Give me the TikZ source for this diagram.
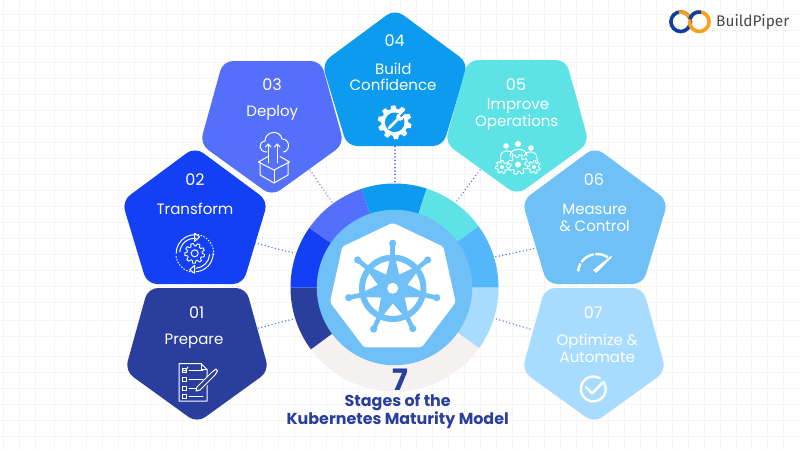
\documentclass[tikz,border=0pt]{standalone}
\usepackage{fontspec}
\usetikzlibrary{calc}
\setmainfont{Poppins}
\newfontfamily\logofont{Fira Sans}
\definecolor{cA}{HTML}{2A3F9D}
\definecolor{cB}{HTML}{1440F5}
\definecolor{cC}{HTML}{5470FA}
\definecolor{cD}{HTML}{0D9BEF}
\definecolor{cE}{HTML}{5DE2E6}
\definecolor{cF}{HTML}{6FC0F7}
\definecolor{cG}{HTML}{A8DCFF}
\definecolor{cF2}{HTML}{52B8FB}
\definecolor{ringbase}{HTML}{F6F1F1}
\definecolor{gridc}{HTML}{F6F5F4}
\definecolor{dotc}{HTML}{4A63F0}
\definecolor{logoblue}{HTML}{123E9C}
\definecolor{logoorange}{HTML}{F9A11B}
\definecolor{logotext}{HTML}{4A4A4A}
\tikzset{
  pent/.style={rounded corners=10pt,draw=none},
  seg/.style={draw=none},
  conn/.style={dotc,line width=1.4pt,line cap=round,dash pattern=on 0.1pt off 3.4pt},
  num/.style={text=white,font=\fontsize{16}{18}\selectfont,inner sep=0pt},
  lab/.style={text=white,font=\fontsize{15}{16}\selectfont,inner sep=0pt},
  ico/.style={white,line width=1pt,line cap=round,line join=round},
  title/.style={text=cA,font=\fontsize{15.9}{18}\bfseries\selectfont,inner sep=0pt},
}
% tip-up pentagon: centre x, top y, colour
\newcommand\pentup[3]{\fill[pent,#3] (#1,#2-3) -- (#1+73,#2+51) -- (#1+48,#2+134) -- (#1-48,#2+134) -- (#1-73,#2+51) -- cycle;}
% tip-down pentagon: centre x, top y, colour
\newcommand\pentdown[3]{\fill[pent,#3] (#1-49,#2) -- (#1+49,#2) -- (#1+72,#2+83) -- (#1,#2+135) -- (#1-72,#2+83) -- cycle;}
% ring segment: from angle, to angle, colour
\newcommand\ringseg[3]{\fill[seg,#3] (#1:104pt) arc[start angle=#1,end angle=#2,radius=104pt] -- (#2:70pt) arc[start angle=#2,end angle=#1,radius=70pt] -- cycle;}
% gear outline: options, x, y, R, r, teeth
\newcommand\mygear[6]{\path[#1,shift={(#2,#3)}] (0:#4pt) foreach \k in {1,...,#6}{ -- ({(\k-0.72)*360/#6}:#4pt) -- ({(\k-0.55)*360/#6}:#5pt) -- ({(\k-0.18)*360/#6}:#5pt) -- ({\k*360/#6}:#4pt)} -- cycle;}
\begin{document}
\begin{tikzpicture}[x=1pt,y=-1pt]
\useasboundingbox (0,0) rectangle (800,450);
\fill[white] (0,0) rectangle (800,450);
% background grid
\foreach \gx in {3.5,19.5,35.5,54.5,70.5,86.5,102.5,118.5,134.5,150.5,166.5,182.5,198.5,214.5,230.5,246.5,262.5,278.5,294.5,310.5,326.5,342.5,358.5,374.5,390.5,400.5,416.5,432.5,448.5,464.5,480.5,496.5,512.5,528.5,544.5,560.5,576.5,592.5,608.5,624.5,640.5,656.5,672.5,688.5,704.5,720.5,736.5,751.5,767.5,783.5}
  \draw[gridc,line width=1pt] (\gx,0) -- (\gx,450);
\foreach \gy in {14,30,46,62,78,94,110,126,142,158,174,190,206,222,238,254,270,286,302,320,336,356,372,388,404,420,436}
  \draw[gridc,line width=1pt] (0,\gy) -- (800,\gy);
% connector ends
\coordinate (a1) at (255,329); \coordinate (b1) at (293,319);
\coordinate (a2) at (255,243); \coordinate (b2) at (293,253);
\coordinate (a3) at (310,170); \coordinate (b3) at (332,202);
\coordinate (a4) at (395,143); \coordinate (b4) at (395,182);
\coordinate (a5) at (480,170); \coordinate (b5) at (456,202);
\coordinate (a6) at (537,248); \coordinate (b6) at (495,257);
\coordinate (a7) at (530,329); \coordinate (b7) at (493,318);
\foreach \i in {1,...,7} \draw[conn] (a\i) -- (b\i);
% pentagons
\pentup{195}{150}{cB}
\pentdown{197}{288}{cA}
\pentdown{272}{61}{cC}
\pentup{395}{12}{cD}
\pentdown{517}{60}{cE}
\pentup{595}{150}{cF}
\pentdown{594}{288}{cG}
% centre ring
\begin{scope}[shift={(394.5,287.5)}]
  \fill[ringbase] (0,0) circle[radius=104pt];
  \ringseg{180}{216.5}{cA}
  \ringseg{145}{180}{cB}
  \ringseg{108.4}{145}{cC}
  \ringseg{72}{108.4}{cD}
  \ringseg{36}{72}{cE}
  \ringseg{0}{36}{cF2}
  \ringseg{-35.5}{0}{cG}
  \fill[cF] (0,0) circle[radius=77.7pt];
\end{scope}
% heptagon
\fill[white,rounded corners=2pt] (392.7,222.7) -- (443.3,246.7) -- (455.7,302.3) -- (421.7,347.3) -- (364,347.3) -- (330,302.3) -- (342.3,246.7) -- cycle;
% helm
\begin{scope}[shift={(392.7,288.3)}]
  \draw[cF,line width=6pt] (0,0) circle[radius=30.7pt];
  \foreach \a in {90,39,-12,-63.5,-115,192,141}{
    \fill[cF] ($(\a-90:10pt)$) -- ($(\a:31pt)+(\a-90:2.2pt)$) -- ($(\a:31pt)+(\a+90:2.2pt)$) -- ($(\a+90:10pt)$) -- cycle;
    \draw[cF,line width=4.6pt,line cap=round] (\a:31pt) -- (\a:44pt);
    \fill[cF] (\a:45pt) circle[radius=3.6pt];
  }
  \fill[cF] (0,0) circle[radius=11pt];
  \fill[white] (0,0) circle[radius=5.5pt];
\end{scope}
% texts
\node[num] (n1) at (196.7,312.7) {01};
\node[lab] (t1) at (194,341.7) {Prepare};
\node[num] (n2) at (195,180) {02};
\node[lab] (t2) at (195,209) {Transform};
\node[num] (n3) at (272,85) {03};
\node[lab] (t3) at (272.3,113) {Deploy};
\node[num] (n4) at (394.7,41) {04};
\node[lab] (t4a) at (393.3,69) {Build};
\node[lab] (t4b) at (393,85) {Confidence};
\node[num] (n5) at (516,85) {05};
\node[lab] (t5a) at (518,106.7) {Improve};
\node[lab] (t5b) at (516.7,122.3) {Operations};
\node[num] (n6) at (594,180) {06};
\node[lab] (t6a) at (594.7,209) {Measure};
\node[lab] (t6b) at (594.7,225.7) {\& Control};
\node[num] (n7) at (593.3,312.3) {07};
\node[lab] (t7a) at (597.3,341.7) {Optimize \&};
\node[lab] (t7b) at (597.3,357.7) {Automate};
\node[title,font=\fontsize{29.5}{30}\bfseries\selectfont] (seven) at (400,380) {7};
\node[title] (s1) at (397.7,402) {Stages of the};
\node[title] (s2) at (397.7,420) {Kubernetes Maturity Model};
% icon 01 checklist
\begin{scope}[ico]
  \draw (179,363.5) -- (201,363.5) -- (207,369.5) -- (207,401) -- (179,401) -- cycle;
  \draw (201,363.5) -- (201,369.5) -- (207,369.5);
  \foreach \yy in {370,379,388,396}{
    \draw (182,\yy-2) rectangle (186,\yy+2);
    \draw (189,\yy) -- (203,\yy);
  }
  \draw (183,370) -- (185,371) -- (188,367);
  \fill[cA] (196,388) -- (213,372) -- (218,376) -- (200,391) -- cycle;
  \draw (197,387) -- (212,372) -- (216,369) -- (217.5,371) -- (215,375) -- (200,390) -- (196,391) -- cycle;
\end{scope}
% icon 02 cycle gear
\begin{scope}[ico,shift={(194.7,253.3)}]
  \mygear{draw=white,line width=0.9pt}{0}{0}{7.5}{10}{9}
  \draw (0,0) circle[radius=3.5pt];
  \draw (175:15pt) arc[start angle=175,end angle=85,radius=15pt];
  \draw (180:18.5pt) arc[start angle=180,end angle=85,radius=18.5pt];
  \draw (-5:15pt) arc[start angle=-5,end angle=-85,radius=15pt];
  \draw (0:18.5pt) arc[start angle=0,end angle=-85,radius=18.5pt];
  \draw[dotted] (80:19pt) arc[start angle=80,end angle=-5,radius=19pt];
  \draw[dotted] (-95:19pt) arc[start angle=-95,end angle=-175,radius=19pt];
  \draw (0,-20) -- (5,-16.5) -- (0,-12) -- cycle;
  \draw (0,20) -- (-5,16.5) -- (0,12) -- cycle;
\end{scope}
% icon 03 cloud and box
\begin{scope}[ico]
  \draw (267,152) .. controls (258,152) and (258,142) .. (265,141) .. controls (265,131) and (280,129) .. (282,139) .. controls (291,139) and (290,152) .. (283,152);
  \draw (268.3,163) -- (268.3,144); \draw (265.5,147) -- (268.3,144) -- (271,147);
  \draw (277.3,163) -- (277.3,144); \draw (274.5,147) -- (277.3,144) -- (280,147);
  \draw (260,163) -- (260,175) -- (274,183) -- (288,175) -- (288,163);
  \draw (274,170) -- (274,183);
  \draw (258.5,162) -- (274,170) -- (289.5,162) -- (280,156.5);
  \draw (258.5,162) -- (268,156.5);
\end{scope}
% icon 04 gear and wrench
\mygear{fill=white}{394.7}{122.3}{13.5}{17}{10}
\fill[cD] (394.7,122.3) circle[radius=9.8pt];
\draw[white,line width=2.6pt,line cap=round] (389,128) -- (398.5,118.5);
\fill[white] (400,117) circle[radius=3.8pt];
\draw[cD,line width=2pt] (400.5,116.5) -- (405,112);
% icon 05 team and gears
\begin{scope}[ico]
  \fill[white] (506,146) circle[radius=2.8pt];
  \fill[white] (518,144) circle[radius=3pt];
  \fill[white] (531,148) circle[radius=2.8pt];
  \draw (500.5,162) -- (500.5,157) .. controls (500.5,149) and (512,149) .. (513,155);
  \draw (510,156) .. controls (510,147) and (527,147) .. (527,156);
  \draw (524,156) .. controls (525,150) and (537,150) .. (537,158) -- (537,162);
  \mygear{draw=white,line width=0.9pt,fill=cE}{502}{167}{4.5}{6.5}{7}
  \mygear{draw=white,line width=0.9pt,fill=cE}{534}{167}{4.5}{6.5}{7}
  \mygear{draw=white,line width=0.9pt,fill=cE}{518}{164.5}{7}{10}{8}
  \fill[white] (502,167) circle[radius=2pt];
  \fill[white] (534,167) circle[radius=2pt];
  \fill[white] (518,164.5) circle[radius=3pt];
\end{scope}
% icon 06 gauge
\begin{scope}[shift={(597,273)}]
  \draw[white,line width=2.4pt] (175:19pt) arc[start angle=175,end angle=150,radius=19pt];
  \draw[white,line width=2.4pt] (145:19pt) arc[start angle=145,end angle=100,radius=19pt];
  \draw[white,line width=2.4pt] (95:19pt) arc[start angle=95,end angle=55,radius=19pt];
  \fill[white] (-4,-3) -- (14,-17) -- (15,-16) -- (-1,0) -- cycle;
\end{scope}
% icon 07 check
\draw[white,line width=2.4pt,line cap=round] (593.3,389) ++(35:12.5pt) arc[start angle=35,end angle=-300,radius=12.5pt];
\draw[white,line width=2.4pt,line cap=round,line join=round] (586,387.3) -- (592,393.3) -- (602.7,382.7);
% logo
\draw[logoblue,line width=3.6pt] (680.7,21.7) circle[radius=9.8pt];
\draw[logoorange,line width=3.6pt] (699.3,21.7) circle[radius=9.8pt];
\draw[logoorange,line width=3.6pt] (680.7,21.7) ++(100:9.8pt) arc[start angle=100,end angle=15,radius=9.8pt];
\draw[logoblue,line width=3.6pt] (699.3,21.7) ++(165:9.8pt) arc[start angle=165,end angle=80,radius=9.8pt];
\node[text=logotext,font=\logofont\fontsize{15.4}{18}\selectfont,inner sep=0pt,anchor=west] (logo) at (716,22) {BuildPiper};
\end{tikzpicture}
\end{document}
